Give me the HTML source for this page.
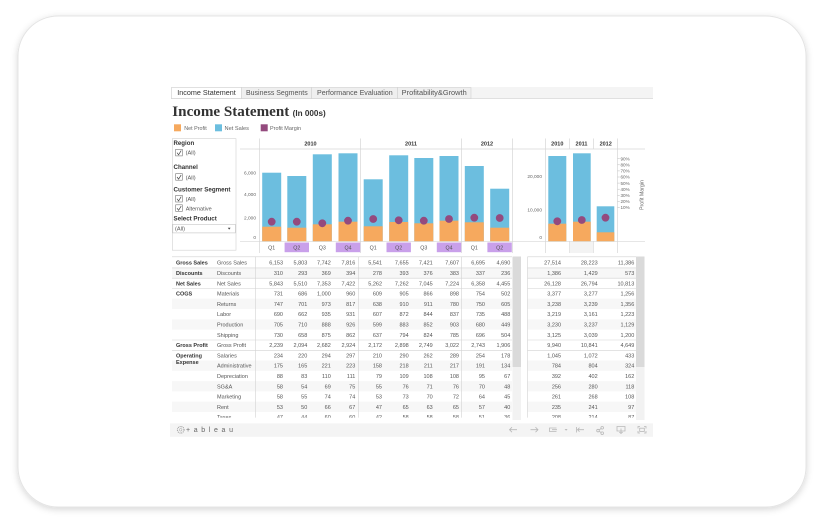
<!DOCTYPE html>
<html><head><meta charset="utf-8"><style>
html,body{margin:0;padding:0;background:#fff;width:824px;height:528px;overflow:hidden}
svg{display:block}
text{font-family:"Liberation Sans",sans-serif}
</style></head><body>
<svg width="824" height="528" viewBox="0 0 824 528" xmlns="http://www.w3.org/2000/svg">
<defs>
<filter id="sh" x="-5%" y="-5%" width="110%" height="112%">
<feDropShadow dx="0" dy="2" stdDeviation="3.5" flood-color="#000" flood-opacity="0.16"/>
</filter>
<clipPath id="tc"><rect x="170" y="256" width="480" height="161.6"/></clipPath>
</defs>
<rect x="18" y="16" width="788" height="491" rx="40" fill="#fff" stroke="#e4e4e4" stroke-width="1" filter="url(#sh)"/>

<!-- Tabs -->
<rect x="171" y="87" width="482" height="11.5" fill="#f4f4f4"/>
<line x1="171" y1="98.5" x2="653" y2="98.5" stroke="#d8d8d8" stroke-width="0.7"/>
<rect x="241.5" y="87.5" width="70" height="11" fill="#efefef" stroke="#d0d0d0" stroke-width="0.6"/>
<rect x="311.5" y="87.5" width="86" height="11" fill="#efefef" stroke="#d0d0d0" stroke-width="0.6"/>
<rect x="397.5" y="87.5" width="73.5" height="11" fill="#efefef" stroke="#d0d0d0" stroke-width="0.6"/>
<rect x="171.5" y="87.5" width="70" height="11" fill="#fff" stroke="#cfcfcf" stroke-width="0.6"/>
<g font-size="7" fill="#333">
<text x="177.3" y="95.2" textLength="58.4" lengthAdjust="spacingAndGlyphs">Income Statement</text>
<text x="246" y="95.2" textLength="61.7" lengthAdjust="spacingAndGlyphs" fill="#555">Business Segments</text>
<text x="317" y="95.2" textLength="75.7" lengthAdjust="spacingAndGlyphs" fill="#555">Performance Evaluation</text>
<text x="401.7" y="95.2" textLength="65" lengthAdjust="spacingAndGlyphs" fill="#555">Profitability&amp;Growth</text>
</g>

<!-- Title -->
<text x="172.3" y="116" style="font-family:'Liberation Serif',serif" font-weight="bold" font-size="15" fill="#333" textLength="117" lengthAdjust="spacingAndGlyphs">Income Statement</text>
<text x="292.7" y="116" font-weight="bold" font-size="8" fill="#333" textLength="33" lengthAdjust="spacingAndGlyphs">(In 000s)</text>

<!-- Legend -->
<rect x="174" y="124.3" width="7" height="7" fill="#f6a95e"/>
<rect x="215" y="124.3" width="7" height="7" fill="#6cbedf"/>
<rect x="260.7" y="124.3" width="7" height="7" fill="#944a7e"/>
<g font-size="5.5" fill="#666">
<text x="184.3" y="130" textLength="22.4" lengthAdjust="spacingAndGlyphs">Net Profit</text>
<text x="224.5" y="130" textLength="24.5" lengthAdjust="spacingAndGlyphs">Net Sales</text>
<text x="270" y="130" textLength="31" lengthAdjust="spacingAndGlyphs">Profit Margin</text>
</g>

<!-- Filter panel -->
<rect x="172.3" y="138.7" width="63.7" height="111.5" fill="#fff" stroke="#d0d0d0" stroke-width="0.6"/>
<g font-size="6" font-weight="bold" fill="#333">
<text x="173.5" y="145" textLength="20.7" lengthAdjust="spacingAndGlyphs">Region</text>
<text x="173.5" y="169" textLength="24.3" lengthAdjust="spacingAndGlyphs">Channel</text>
<text x="173.5" y="191.3" textLength="57" lengthAdjust="spacingAndGlyphs">Customer Segment</text>
<text x="173.5" y="220.6" textLength="43.3" lengthAdjust="spacingAndGlyphs">Select Product</text>
</g>
<g fill="none" stroke="#777" stroke-width="0.6">
<rect x="175.7" y="149.3" width="6.6" height="6.6"/>
<rect x="175.7" y="173.6" width="6.6" height="6.6"/>
<rect x="175.7" y="195.4" width="6.6" height="6.6"/>
<rect x="175.7" y="204.8" width="6.6" height="6.6"/>
</g>
<g fill="none" stroke="#444" stroke-width="0.7">
<path d="M177 152.7 L178.6 154.8 L181.2 150.6"/>
<path d="M177 177 L178.6 179.1 L181.2 174.9"/>
<path d="M177 198.8 L178.6 200.9 L181.2 196.7"/>
<path d="M177 208.2 L178.6 210.3 L181.2 206.1"/>
</g>
<g font-size="5.5" fill="#555">
<text x="185.7" y="154.5" textLength="10" lengthAdjust="spacingAndGlyphs">(All)</text>
<text x="185.7" y="179.3" textLength="10" lengthAdjust="spacingAndGlyphs">(All)</text>
<text x="185.7" y="201" textLength="10" lengthAdjust="spacingAndGlyphs">(All)</text>
<text x="185.7" y="210.3" textLength="26" lengthAdjust="spacingAndGlyphs">Alternative</text>
</g>
<rect x="172.8" y="224.3" width="62.5" height="8.6" fill="#fff" stroke="#c4c4c4" stroke-width="0.6"/>
<text x="175" y="230.6" font-size="5.5" fill="#555" textLength="10" lengthAdjust="spacingAndGlyphs">(All)</text>
<path d="M227.8 227.8 L230.6 227.8 L229.2 229.6 Z" fill="#444"/>

<!-- Chart frame -->
<g stroke="#d6d6d6" stroke-width="0.7">
<line x1="240" y1="149" x2="645" y2="149"/>
<line x1="240" y1="241.3" x2="512.5" y2="241.3"/>
<line x1="512.5" y1="241.3" x2="645" y2="241.3"/>
<line x1="259.5" y1="138.5" x2="259.5" y2="253"/>
<line x1="360.5" y1="138.5" x2="360.5" y2="253"/>
<line x1="461.5" y1="138.5" x2="461.5" y2="253"/>
<line x1="512.5" y1="138.5" x2="512.5" y2="253"/>
<line x1="545.5" y1="138.5" x2="545.5" y2="253"/>
<line x1="569.5" y1="138.5" x2="569.5" y2="149"/>
<line x1="593.5" y1="138.5" x2="593.5" y2="149"/>
<line x1="569.5" y1="241.3" x2="569.5" y2="253"/>
<line x1="593.5" y1="241.3" x2="593.5" y2="253"/>
<line x1="617.5" y1="138.5" x2="617.5" y2="253"/>
</g>
<rect x="569.8" y="241.7" width="23.4" height="11.3" fill="#f3f3f3"/>

<g font-size="5.5" font-weight="bold" fill="#333" text-anchor="middle">
<text x="310.5" y="145.3">2010</text>
<text x="411" y="145.3">2011</text>
<text x="487" y="145.3">2012</text>
<text x="557.3" y="145.3">2010</text>
<text x="581.5" y="145.3">2011</text>
<text x="605.7" y="145.3">2012</text>
</g>

<!-- Y axis labels -->
<g font-size="4.8" fill="#666" text-anchor="end">
<text x="256" y="174.3">6,000</text>
<text x="256" y="196">4,000</text>
<text x="256" y="219.5">2,000</text>
<text x="256" y="239">0</text>
<text x="542" y="178">20,000</text>
<text x="542" y="211.3">10,000</text>
<text x="542" y="239">0</text>
</g>

<!-- Bars -->
<g fill="#6cbedf">
<rect x="262.2" y="172.7" width="19" height="68.6"/>
<rect x="287.3" y="176" width="19" height="65.3"/>
<rect x="312.8" y="154.3" width="19" height="87"/>
<rect x="338.5" y="153.3" width="19" height="88"/>
<rect x="363.7" y="179.3" width="19" height="62"/>
<rect x="389.2" y="155.3" width="19" height="86"/>
<rect x="414.3" y="158" width="19" height="83.3"/>
<rect x="439.5" y="156" width="19" height="85.3"/>
<rect x="464.8" y="166" width="19" height="75.3"/>
<rect x="490.2" y="188.7" width="19" height="52.6"/>
<rect x="548.3" y="156" width="18" height="85.3"/>
<rect x="573" y="153.3" width="17.7" height="88"/>
<rect x="596.7" y="206.3" width="17.6" height="35"/>
</g>
<g fill="#f6a95e">
<rect x="262.2" y="226.7" width="19" height="14.6"/>
<rect x="287.3" y="227.7" width="19" height="13.6"/>
<rect x="312.8" y="224.3" width="19" height="17"/>
<rect x="338.5" y="221.7" width="19" height="19.6"/>
<rect x="363.7" y="226.3" width="19" height="15"/>
<rect x="389.2" y="222" width="19" height="19.3"/>
<rect x="414.3" y="223.3" width="19" height="18"/>
<rect x="439.5" y="220.7" width="19" height="20.6"/>
<rect x="464.8" y="222.3" width="19" height="19"/>
<rect x="490.2" y="227.7" width="19" height="13.6"/>
<rect x="548.3" y="223.7" width="18" height="17.6"/>
<rect x="573" y="221.7" width="17.7" height="19.6"/>
<rect x="596.7" y="232.3" width="17.6" height="9"/>
</g>
<g fill="#944a7e">
<circle cx="271.7" cy="221.7" r="3.9"/>
<circle cx="296.8" cy="221.7" r="3.9"/>
<circle cx="322.3" cy="223.3" r="3.9"/>
<circle cx="348" cy="220.7" r="3.9"/>
<circle cx="373.2" cy="219" r="3.9"/>
<circle cx="398.7" cy="220.3" r="3.9"/>
<circle cx="423.8" cy="220.7" r="3.9"/>
<circle cx="449" cy="219" r="3.9"/>
<circle cx="474.3" cy="217.7" r="3.9"/>
<circle cx="499.7" cy="218" r="3.9"/>
<circle cx="557.3" cy="221.3" r="3.9"/>
<circle cx="581.8" cy="220" r="3.9"/>
<circle cx="605.5" cy="217.7" r="3.9"/>
</g>

<!-- Quarter labels -->
<g fill="#c9a0ea">
<rect x="284.6" y="242.5" width="24.4" height="9.7"/>
<rect x="335.8" y="242.5" width="24.4" height="9.7"/>
<rect x="386.5" y="242.5" width="24.4" height="9.7"/>
<rect x="436.8" y="242.5" width="24.4" height="9.7"/>
<rect x="487.4" y="242.5" width="24.4" height="9.7"/>
</g>
<g font-size="5.3" fill="#555" text-anchor="middle">
<text x="271.7" y="249.4">Q1</text>
<text x="296.8" y="249.4">Q2</text>
<text x="322.3" y="249.4">Q3</text>
<text x="348" y="249.4">Q4</text>
<text x="373.2" y="249.4">Q1</text>
<text x="398.7" y="249.4">Q2</text>
<text x="423.8" y="249.4">Q3</text>
<text x="449" y="249.4">Q4</text>
<text x="474.3" y="249.4">Q1</text>
<text x="499.7" y="249.4">Q2</text>
</g>

<!-- Right axis -->
<g stroke="#bbb" stroke-width="0.5">
<line x1="617.5" y1="158.7" x2="619.8" y2="158.7"/>
<line x1="617.5" y1="164.8" x2="619.8" y2="164.8"/>
<line x1="617.5" y1="170.9" x2="619.8" y2="170.9"/>
<line x1="617.5" y1="177" x2="619.8" y2="177"/>
<line x1="617.5" y1="183.1" x2="619.8" y2="183.1"/>
<line x1="617.5" y1="189.2" x2="619.8" y2="189.2"/>
<line x1="617.5" y1="195.3" x2="619.8" y2="195.3"/>
<line x1="617.5" y1="201.4" x2="619.8" y2="201.4"/>
<line x1="617.5" y1="207.5" x2="619.8" y2="207.5"/>
</g>
<g font-size="4.6" fill="#666">
<text x="620.5" y="160.4">90%</text>
<text x="620.5" y="166.5">80%</text>
<text x="620.5" y="172.6">70%</text>
<text x="620.5" y="178.7">60%</text>
<text x="620.5" y="184.8">50%</text>
<text x="620.5" y="190.9">40%</text>
<text x="620.5" y="197">30%</text>
<text x="620.5" y="203.1">20%</text>
<text x="620.5" y="209.2">10%</text>
</g>
<text transform="translate(643.5 195) rotate(-90)" font-size="5.2" fill="#666" text-anchor="middle" textLength="30" lengthAdjust="spacingAndGlyphs">Profit Margin</text>

<!-- Tables -->
<g clip-path="url(#tc)">
<g fill="#f7f7f7">
<rect x="172" y="267.9" width="340" height="10.3"/>
<rect x="172" y="298.7" width="340" height="10.3"/>
<rect x="172" y="319.3" width="340" height="10.3"/>
<rect x="172" y="360.5" width="340" height="10.3"/>
<rect x="172" y="381.1" width="340" height="10.3"/>
<rect x="172" y="401.7" width="340" height="10.3"/>
<rect x="527.5" y="267.9" width="108.5" height="10.3"/>
<rect x="527.5" y="298.7" width="108.5" height="10.3"/>
<rect x="527.5" y="319.3" width="108.5" height="10.3"/>
<rect x="527.5" y="360.5" width="108.5" height="10.3"/>
<rect x="527.5" y="381.1" width="108.5" height="10.3"/>
<rect x="527.5" y="401.7" width="108.5" height="10.3"/>
</g>
<g stroke="#d2d2d2" stroke-width="0.6">
<line x1="172" y1="256.8" x2="512" y2="256.8"/>
<line x1="527.5" y1="256.8" x2="636" y2="256.8"/>
<line x1="172" y1="267.9" x2="512" y2="267.9"/>
<line x1="527.5" y1="267.9" x2="636" y2="267.9"/>
<line x1="172" y1="278.2" x2="512" y2="278.2"/>
<line x1="527.5" y1="278.2" x2="636" y2="278.2"/>
<line x1="172" y1="288.5" x2="512" y2="288.5"/>
<line x1="527.5" y1="288.5" x2="636" y2="288.5"/>
<line x1="172" y1="340" x2="512" y2="340"/>
<line x1="527.5" y1="340" x2="636" y2="340"/>
<line x1="172" y1="350.3" x2="512" y2="350.3"/>
<line x1="527.5" y1="350.3" x2="636" y2="350.3"/>
<line x1="255.5" y1="256.8" x2="255.5" y2="422"/>
<line x1="358.5" y1="256.8" x2="358.5" y2="422"/>
<line x1="461.5" y1="256.8" x2="461.5" y2="422"/>
<line x1="527.5" y1="256.8" x2="527.5" y2="422"/>
</g>
<g font-size="5.5" font-weight="bold" fill="#333">
<text x="176" y="264.7">Gross Sales</text>
<text x="176" y="275">Discounts</text>
<text x="176" y="285.3">Net Sales</text>
<text x="176" y="295.6">COGS</text>
<text x="176" y="347.1">Gross Profit</text>
<text x="176" y="357.4">Operating</text>
<text x="176" y="364">Expense</text>
</g>
<g font-size="5.5" fill="#555">
<text x="217" y="264.7">Gross Sales</text>
<text x="217" y="275">Discounts</text>
<text x="217" y="285.3">Net Sales</text>
<text x="217" y="295.6">Materials</text>
<text x="217" y="305.9">Returns</text>
<text x="217" y="316.2">Labor</text>
<text x="217" y="326.5">Production</text>
<text x="217" y="336.8">Shipping</text>
<text x="217" y="347.1">Gross Profit</text>
<text x="217" y="357.4">Salaries</text>
<text x="217" y="367.7">Administrative</text>
<text x="217" y="378">Depreciation</text>
<text x="217" y="388.3">SG&amp;A</text>
<text x="217" y="398.6">Marketing</text>
<text x="217" y="408.9">Rent</text>
<text x="217" y="419.2">Taxes</text>
</g>
<g font-size="5.5" fill="#555" text-anchor="end">
<text y="264.7"><tspan x="283">6,153</tspan><tspan x="307.3">5,803</tspan><tspan x="330.8">7,742</tspan><tspan x="355.3">7,816</tspan><tspan x="382">5,541</tspan><tspan x="408.7">7,655</tspan><tspan x="432.7">7,421</tspan><tspan x="459">7,607</tspan><tspan x="485">6,695</tspan><tspan x="510.3">4,690</tspan><tspan x="561">27,514</tspan><tspan x="597.7">28,223</tspan><tspan x="634.3">11,386</tspan></text>
<text y="275"><tspan x="283">310</tspan><tspan x="307.3">293</tspan><tspan x="330.8">369</tspan><tspan x="355.3">394</tspan><tspan x="382">278</tspan><tspan x="408.7">393</tspan><tspan x="432.7">376</tspan><tspan x="459">383</tspan><tspan x="485">337</tspan><tspan x="510.3">236</tspan><tspan x="561">1,386</tspan><tspan x="597.7">1,429</tspan><tspan x="634.3">573</tspan></text>
<text y="285.3"><tspan x="283">5,843</tspan><tspan x="307.3">5,510</tspan><tspan x="330.8">7,353</tspan><tspan x="355.3">7,422</tspan><tspan x="382">5,262</tspan><tspan x="408.7">7,262</tspan><tspan x="432.7">7,045</tspan><tspan x="459">7,224</tspan><tspan x="485">6,358</tspan><tspan x="510.3">4,455</tspan><tspan x="561">26,128</tspan><tspan x="597.7">26,794</tspan><tspan x="634.3">10,813</tspan></text>
<text y="295.6"><tspan x="283">731</tspan><tspan x="307.3">686</tspan><tspan x="330.8">1,000</tspan><tspan x="355.3">960</tspan><tspan x="382">609</tspan><tspan x="408.7">905</tspan><tspan x="432.7">866</tspan><tspan x="459">898</tspan><tspan x="485">754</tspan><tspan x="510.3">502</tspan><tspan x="561">3,377</tspan><tspan x="597.7">3,277</tspan><tspan x="634.3">1,256</tspan></text>
<text y="305.9"><tspan x="283">747</tspan><tspan x="307.3">701</tspan><tspan x="330.8">973</tspan><tspan x="355.3">817</tspan><tspan x="382">638</tspan><tspan x="408.7">910</tspan><tspan x="432.7">911</tspan><tspan x="459">780</tspan><tspan x="485">750</tspan><tspan x="510.3">605</tspan><tspan x="561">3,238</tspan><tspan x="597.7">3,239</tspan><tspan x="634.3">1,356</tspan></text>
<text y="316.2"><tspan x="283">690</tspan><tspan x="307.3">662</tspan><tspan x="330.8">935</tspan><tspan x="355.3">931</tspan><tspan x="382">607</tspan><tspan x="408.7">872</tspan><tspan x="432.7">844</tspan><tspan x="459">837</tspan><tspan x="485">735</tspan><tspan x="510.3">488</tspan><tspan x="561">3,219</tspan><tspan x="597.7">3,161</tspan><tspan x="634.3">1,223</tspan></text>
<text y="326.5"><tspan x="283">705</tspan><tspan x="307.3">710</tspan><tspan x="330.8">888</tspan><tspan x="355.3">926</tspan><tspan x="382">599</tspan><tspan x="408.7">883</tspan><tspan x="432.7">852</tspan><tspan x="459">903</tspan><tspan x="485">680</tspan><tspan x="510.3">449</tspan><tspan x="561">3,230</tspan><tspan x="597.7">3,237</tspan><tspan x="634.3">1,129</tspan></text>
<text y="336.8"><tspan x="283">730</tspan><tspan x="307.3">658</tspan><tspan x="330.8">875</tspan><tspan x="355.3">862</tspan><tspan x="382">637</tspan><tspan x="408.7">794</tspan><tspan x="432.7">824</tspan><tspan x="459">785</tspan><tspan x="485">696</tspan><tspan x="510.3">504</tspan><tspan x="561">3,125</tspan><tspan x="597.7">3,039</tspan><tspan x="634.3">1,200</tspan></text>
<text y="347.1"><tspan x="283">2,239</tspan><tspan x="307.3">2,094</tspan><tspan x="330.8">2,682</tspan><tspan x="355.3">2,924</tspan><tspan x="382">2,172</tspan><tspan x="408.7">2,898</tspan><tspan x="432.7">2,749</tspan><tspan x="459">3,022</tspan><tspan x="485">2,743</tspan><tspan x="510.3">1,906</tspan><tspan x="561">9,940</tspan><tspan x="597.7">10,841</tspan><tspan x="634.3">4,649</tspan></text>
<text y="357.4"><tspan x="283">234</tspan><tspan x="307.3">220</tspan><tspan x="330.8">294</tspan><tspan x="355.3">297</tspan><tspan x="382">210</tspan><tspan x="408.7">290</tspan><tspan x="432.7">262</tspan><tspan x="459">289</tspan><tspan x="485">254</tspan><tspan x="510.3">178</tspan><tspan x="561">1,045</tspan><tspan x="597.7">1,072</tspan><tspan x="634.3">433</tspan></text>
<text y="367.7"><tspan x="283">175</tspan><tspan x="307.3">165</tspan><tspan x="330.8">221</tspan><tspan x="355.3">223</tspan><tspan x="382">158</tspan><tspan x="408.7">218</tspan><tspan x="432.7">211</tspan><tspan x="459">217</tspan><tspan x="485">191</tspan><tspan x="510.3">134</tspan><tspan x="561">784</tspan><tspan x="597.7">804</tspan><tspan x="634.3">324</tspan></text>
<text y="378"><tspan x="283">88</tspan><tspan x="307.3">83</tspan><tspan x="330.8">110</tspan><tspan x="355.3">111</tspan><tspan x="382">79</tspan><tspan x="408.7">109</tspan><tspan x="432.7">108</tspan><tspan x="459">108</tspan><tspan x="485">95</tspan><tspan x="510.3">67</tspan><tspan x="561">392</tspan><tspan x="597.7">402</tspan><tspan x="634.3">162</tspan></text>
<text y="388.3"><tspan x="283">58</tspan><tspan x="307.3">54</tspan><tspan x="330.8">69</tspan><tspan x="355.3">75</tspan><tspan x="382">55</tspan><tspan x="408.7">76</tspan><tspan x="432.7">71</tspan><tspan x="459">76</tspan><tspan x="485">70</tspan><tspan x="510.3">48</tspan><tspan x="561">256</tspan><tspan x="597.7">280</tspan><tspan x="634.3">118</tspan></text>
<text y="398.6"><tspan x="283">58</tspan><tspan x="307.3">55</tspan><tspan x="330.8">74</tspan><tspan x="355.3">74</tspan><tspan x="382">53</tspan><tspan x="408.7">73</tspan><tspan x="432.7">70</tspan><tspan x="459">72</tspan><tspan x="485">64</tspan><tspan x="510.3">45</tspan><tspan x="561">261</tspan><tspan x="597.7">268</tspan><tspan x="634.3">108</tspan></text>
<text y="408.9"><tspan x="283">53</tspan><tspan x="307.3">50</tspan><tspan x="330.8">66</tspan><tspan x="355.3">67</tspan><tspan x="382">47</tspan><tspan x="408.7">65</tspan><tspan x="432.7">63</tspan><tspan x="459">65</tspan><tspan x="485">57</tspan><tspan x="510.3">40</tspan><tspan x="561">235</tspan><tspan x="597.7">241</tspan><tspan x="634.3">97</tspan></text>
<text y="419.2"><tspan x="283">47</tspan><tspan x="307.3">44</tspan><tspan x="330.8">60</tspan><tspan x="355.3">60</tspan><tspan x="382">42</tspan><tspan x="408.7">58</tspan><tspan x="432.7">58</tspan><tspan x="459">58</tspan><tspan x="485">51</tspan><tspan x="510.3">36</tspan><tspan x="561">208</tspan><tspan x="597.7">214</tspan><tspan x="634.3">87</tspan></text>
</g>
</g>

<!-- Scrollbars -->
<rect x="512.5" y="256.5" width="8.5" height="163.5" fill="#f2f2f2"/>
<rect x="512.5" y="256.5" width="8.5" height="110.5" fill="#dadada"/>
<rect x="636" y="256.5" width="8.5" height="163.5" fill="#f2f2f2"/>
<rect x="636" y="256.5" width="8.5" height="110.5" fill="#dadada"/>

<!-- Toolbar -->
<rect x="170" y="423.3" width="483" height="13.5" fill="#f4f4f4"/>
<circle cx="180.7" cy="429.8" r="3.3" fill="none" stroke="#999" stroke-width="1.1" stroke-dasharray="0.9 0.9"/>
<circle cx="180.7" cy="429.8" r="1.3" fill="none" stroke="#999" stroke-width="0.5"/>
<text x="186" y="432.2" font-size="7" fill="#666" textLength="47" lengthAdjust="spacing">+ableau</text>
<g fill="none" stroke="#b8b8b8" stroke-width="0.8">
<path d="M517 429.7 H509.5 M512 427.2 L509.5 429.7 L512 432.2"/>
<path d="M530.5 429.7 H538 M535.5 427.2 L538 429.7 L535.5 432.2"/>
<path d="M556.5 428 H549.5 V431.5 H556.5 M552 429.7 H557"/>
<path d="M576.5 427 V432.5 M584 429.7 H577.5 M579.5 427.7 L577.5 429.7 L579.5 431.7"/>
<circle cx="598" cy="430.6" r="1.3"/>
<circle cx="602.2" cy="427.8" r="1.3"/>
<circle cx="602.2" cy="433.2" r="1.3"/>
<path d="M599.1 429.9 L601.1 428.5 M599.1 431.3 L601.1 432.5"/>
<path d="M617 426.5 H625 V431 H617 Z M621 428.5 V433.5 M619.3 432 L621 433.5 L622.7 432"/>
<path d="M638 428.5 V426.5 H640 M644 426.5 H646 V428.5 M646 431 V433 H644 M640 433 H638 V431"/>
<rect x="639.7" y="428.2" width="4.6" height="3.2"/>
</g>
<path d="M564.6 429 L567.6 429 L566.1 430.8 Z" fill="#bbb"/>
</svg>
</body></html>
